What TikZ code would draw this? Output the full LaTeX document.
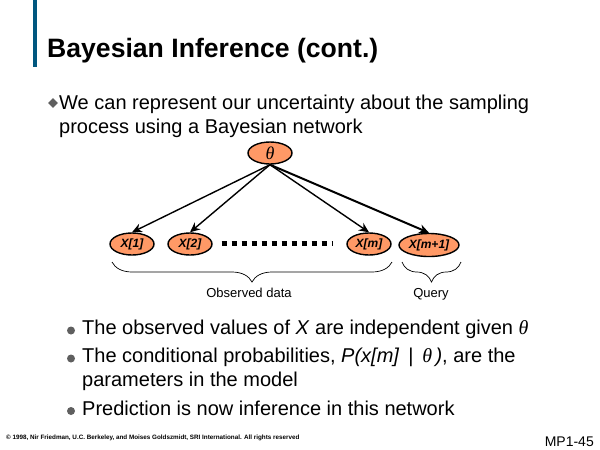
\documentclass[tikz,border=0pt]{standalone}
\usepackage{fontspec}
\setmainfont{Liberation Sans}
\newfontfamily\thetafont{Liberation Serif}
\usetikzlibrary{shapes.geometric,arrows.meta,decorations.pathreplacing}
\definecolor{barColor}{RGB}{0, 87, 127}
\definecolor{nodeColor}{RGB}{255, 153, 102}
\definecolor{bulletColor}{RGB}{95, 95, 95}
\newcommand{\sz}[1]{\fontsize{#1}{#1}\selectfont}
\newcommand{\thetasym}{{\thetafont\itshape θ}}
\tikzstyle{var} = [ellipse, minimum width=44pt, minimum height=22pt, inner sep=0pt, draw=black, line width=1.4pt, fill=nodeColor, font=\sz{12}\bfseries\itshape]
\tikzstyle{body} = [anchor=base west, inner sep=0pt, font=\sz{20}]
\tikzstyle{caption} = [anchor=base, inner sep=0pt, font=\sz{13}]
\tikzstyle{dot} = [circle, minimum size=8pt, inner sep=0pt, fill=bulletColor]
\tikzstyle{link} = [line width=1.4pt,->,>={Stealth[length=10pt,width=9pt]}]
\tikzstyle{curly} = [line width=0.7pt, decorate, decoration={brace,mirror,amplitude=20pt}]
\begin{document}
\begin{tikzpicture}[x=1pt,y=-1pt]
	\useasboundingbox (0,0) rectangle (600,450);
	\fill[barColor] (33,0) rectangle (37,67);
	\node (title) [anchor=base west, inner sep=0pt, font=\sz{26.6}\bfseries] at (47,57) {Bayesian Inference (cont.)};

	\node (diam) [diamond, minimum size=10pt, inner sep=0pt, fill=bulletColor] at (53,103) {};
	\node (line1) [body] at (59,109) {We can represent our uncertainty about the sampling};
	\node (line2) [body] at (59,133) {process using a Bayesian network};

	\node (theta) [var, font=\sz{18}] at (270,153) {\thetasym};
	\node (x1) [var] at (132,244) {X[1]};
	\node (x2) [var] at (190,244) {X[2]};
	\node (xm) [var] at (369,244) {X[m]};
	\node (xnext) [var, minimum width=60pt, minimum height=23pt] at (429,245) {X[m+1]};

	\draw[link] (theta.south) -- (x1.north);
	\draw[link] (theta.south) -- (x2.north);
	\draw[link] (theta.south) -- (xm.north);
	\draw[link, line width=2pt] (theta.south) -- (xnext.north);
	\draw[line width=5pt, dash pattern=on 5pt off 5pt] (x2.east) ++(9,-0.5) coordinate (dotsa) -- (333,243.5) coordinate (dotsb);

	\coordinate (obsa) at (112,262);
	\coordinate (obsb) at (392,262);
	\coordinate (qrya) at (402,262);
	\coordinate (qryb) at (461,262);
	\draw[curly] (obsa) -- (obsb);
	\draw[curly] (qrya) -- (qryb);
	\node (obs) [caption] at (249,297) {Observed data};
	\node (qry) [caption] at (431,297) {Query};

	\node (dot1) [dot] at (71,330.5) {};
	\node (dot2) [dot] at (71,358.5) {};
	\node (dot3) [dot] at (71,411) {};
	\node (sub1) [body] at (82,334) {The observed values of \textit{X} are independent given \thetasym};
	\node (sub2) [body] at (82,362) {The conditional probabilities, \textit{P(x[m]}\, | \,\thetasym\,\textit{)}, are the};
	\node (sub3) [body] at (82,386) {parameters in the model};
	\node (sub4) [body] at (82,415) {Prediction is now inference in this network};

	\node (copy) [anchor=base west, inner sep=0pt, font=\sz{6.3}\bfseries] at (6,439) {© 1998, Nir Friedman, U.C. Berkeley, and Moises Goldszmidt, SRI International. All rights reserved};
	\node (page) [anchor=base east, inner sep=0pt, font=\sz{14}] at (594,446) {MP1-45};
\end{tikzpicture}
\end{document}
